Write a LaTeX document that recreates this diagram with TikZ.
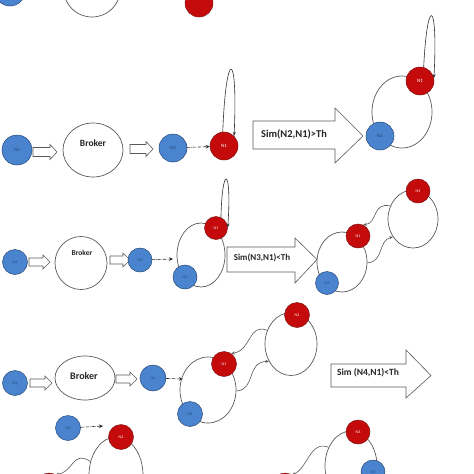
\documentclass[tikz,border=0pt]{standalone}
\usepackage{fontspec}
\setmainfont{Carlito}
\usetikzlibrary{shapes.geometric,arrows.meta}
\definecolor{nblue}{RGB}{74,132,206}
\definecolor{nblueD}{RGB}{40,72,120}
\definecolor{nred}{RGB}{196,10,10}
\definecolor{nredD}{RGB}{130,20,20}
\definecolor{ringc}{RGB}{90,90,90}
\newcommand{\hollowarr}[6]{%
  \draw[harrow] ({#1},{#3-#4}) -- ({#2-#6},{#3-#4}) -- ({#2-#6},{#3-#5}) -- ({#2},{#3})
    -- ({#2-#6},{#3+#5}) -- ({#2-#6},{#3+#4}) -- ({#1},{#3+#4}) -- cycle;}
\tikzset{
  bnode/.style={circle, fill=nblue, draw=nblueD, line width=0.5pt, inner sep=0pt,
    minimum size=#1, text=nblueD, font=\fontsize{4}{4}\selectfont},
  rnode/.style={circle, fill=nred, draw=nredD, line width=0.5pt, inner sep=0pt,
    minimum size=#1, text=white, font=\fontsize{4}{4}\selectfont},
  ring/.style={ellipse, draw=ringc, line width=0.7pt, inner sep=0pt},
  btext/.style={font=\bfseries\fontsize{#1}{#1}\selectfont, text=black!85, inner sep=0pt},
  harrow/.style={draw=ringc, fill=white, line width=0.6pt, line join=miter},
  dasharr/.style={densely dashdotted, draw=black!85, line width=0.6pt,
    -{Stealth[length=4pt,width=3.5pt]}},
  wavy/.style={draw=ringc, line width=0.6pt, -{Stealth[length=3.5pt,width=3pt]}},
  selfloop/.style={draw=black!80, line width=0.6pt, -{Stealth[length=4pt,width=3pt]}},
}
\begin{document}
\begin{tikzpicture}[x=1pt,y=-1pt]
\useasboundingbox (0,0) rectangle (474,474);
\clip (0,0) rectangle (474,474);
\fill[white] (0,0) rectangle (474,474);

% ---------- Row 1 (cut off) ----------
\node[bnode=30pt] (R1n) at (10,-9) {};
\node[ring, minimum width=56pt, minimum height=54pt] (R1b) at (92,-10) {};
\node[rnode=28pt] (R1r) at (199,3) {};

% ---------- Row 2 ----------
\node[bnode=30pt, font=\fontsize{5}{5}\selectfont] (R2a) at (17,150) {N2};
\hollowarr{33}{57}{152}{4.5}{7.5}{7}
\node[ring, minimum width=60pt, minimum height=54pt] (R2b) at (93,150) {};
\node[btext=9.5] (R2bt) at (93,143) {Broker};
\hollowarr{130}{153}{149}{4.5}{7.5}{7}
\node[bnode=28pt, font=\fontsize{5}{5}\selectfont] (R2n2) at (173,148) {N2};
\node[rnode=28pt, font=\fontsize{5}{5}\selectfont] (R2n1) at (224,146) {N1};
\draw[dasharr] (R2n2) -- (R2n1);
\draw[selfloop] (R2n1.95) .. controls (226,48) and (238,48) .. (R2n1.45);

% big arrow 1
\draw[harrow] (253,121) -- (335,121) -- (335,108) -- (363,136) -- (335,163) -- (335,149) -- (253,149) -- cycle;
\node[btext=10.5] (S1) at (294,134) {Sim(N2,N1)>Th};

% cluster A
\node[ring, minimum width=60pt, minimum height=72pt] (Ar) at (402,112) {};
\node[rnode=28pt, font=\fontsize{5}{5}\selectfont] (An1) at (420,81) {N1};
\node[bnode=28pt, font=\fontsize{5}{5}\selectfont] (An2) at (380,136) {N2};
\draw[selfloop] (An1.75) .. controls (427,-3) and (438,-3) .. (An1.12);

% ---------- Row 3 ----------
\node[bnode=25pt] (R3a) at (15,262) {N3};
\hollowarr{29}{50}{262}{4}{7}{7}
\node[ring, minimum width=52pt, minimum height=53pt] (R3b) at (81,263) {};
\node[btext=7.5] (R3bt) at (82,253) {Broker};
\hollowarr{110}{130}{260}{4}{7}{7}
\node[bnode=24pt] (R3n3) at (140,260) {N3};
\node[ring, minimum width=48pt, minimum height=64pt] (R3r) at (201,255) {};
\node[rnode=23pt] (R3n1) at (216,228) {N1};
\node[bnode=24pt] (R3n2) at (185,277) {N2};
\coordinate (R3t) at (173,259);
\draw[dasharr] (R3n3) -- (R3t);
\draw[selfloop] (R3n1.65) .. controls (222,165) and (232,165) .. (R3n1.2);

% big arrow 2
\draw[harrow] (227,247) -- (295,247) -- (295,238) -- (317,259.5) -- (295,283) -- (295,272) -- (227,272) -- cycle;
\node[btext=9] (S2) at (262,258) {Sim(N3,N1)<Th};

% cluster B
\node[ring, minimum width=50pt, minimum height=60pt] (Br1) at (342,262) {};
\node[ring, minimum width=50pt, minimum height=58pt] (Br2) at (413,219) {};
\node[rnode=24pt] (Bn1) at (358,236) {N1};
\node[bnode=23pt] (Bn2) at (327,283) {N2};
\node[rnode=24pt] (Bn3) at (418,191) {N3};
\draw[wavy] (Br2.150) .. controls (372,202) and (378,223) .. (Bn1.65);
\draw[wavy] (Br1.358) .. controls (384,262) and (378,240) .. (Br2.222);

% ---------- Row 4 ----------
\node[bnode=25pt] (R4a) at (15,383) {N4};
\hollowarr{30}{52}{383}{4}{7}{7}
\node[ring, minimum width=60pt, minimum height=44pt] (R4b) at (85,378) {};
\node[btext=10] (R4bt) at (84,376) {Broker};
\hollowarr{116}{137}{379}{4}{7}{7}
\node[bnode=26pt] (R4n4) at (153,378) {N4};
\coordinate (R4t) at (183,379);
\draw[dasharr] (R4n4) -- (R4t);

% cluster C
\node[ring, minimum width=56pt, minimum height=66pt] (Cr1) at (208,390) {};
\node[ring, minimum width=52pt, minimum height=63pt] (Cr2) at (291,344) {};
\node[rnode=25pt] (Cn1) at (224,364) {N1};
\node[bnode=25pt] (Cn2) at (190,414) {N2};
\node[rnode=25pt] (Cn3) at (297,315) {N3};
\draw[wavy] (Cr2.150) .. controls (248,323) and (252,350) .. (Cn1.55);
\draw[wavy] (Cr1.358) .. controls (256,390) and (246,362) .. (Cr2.218);

% big arrow 3
\draw[harrow] (331,364) -- (406,364) -- (406,350) -- (431,375.5) -- (406,398) -- (406,387) -- (331,387) -- cycle;
\node[btext=9.5] (S3) at (368,373) {Sim (N4,N1)<Th};

% ---------- Row 5 (cut off) ----------
\node[bnode=25pt] (R5n4) at (68,428) {N4};
\coordinate (R5t) at (103,426);
\draw[dasharr] (R5n4) -- (R5t);
\node[ring, minimum width=54pt, minimum height=76pt] (Dr) at (116,475) {};
\node[rnode=25pt] (Dn3) at (121,437) {N3};
\node[rnode=26pt] (Dn1) at (49,486) {};
\draw[wavy] (Dr.152) .. controls (72,450) and (74,472) .. (Dn1.60);

\node[ring, minimum width=52pt, minimum height=70pt] (Er) at (351,466) {};
\node[rnode=24pt] (En3) at (358,432) {N3};
\node[bnode=24pt] (En4) at (373,472) {N4};
\node[rnode=24pt] (En1) at (285,485) {};
\draw[wavy] (Er.140) .. controls (310,440) and (308,468) .. (En1.55);
\end{tikzpicture}
\end{document}
